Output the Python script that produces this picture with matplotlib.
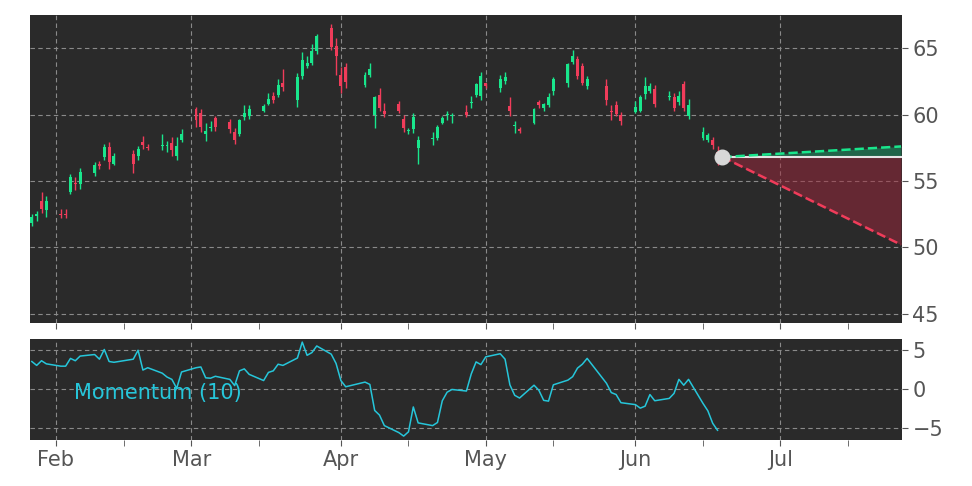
import matplotlib
matplotlib.use("Agg")
import matplotlib.pyplot as plt
import matplotlib.dates as mdates
import numpy as np
import pandas as pd

holidays = ["2026-02-16", "2026-04-03", "2026-05-25"]
dates = [d for d in pd.bdate_range("2026-01-27", "2026-06-18") if d.strftime("%Y-%m-%d") not in holidays]

opens = [51.8,52.35,53.5,52.8,52.5,52.5,54.2,54.85,54.8,55.6,56.3,56.8,57.55,56.3,57.05,56.9,57.9,57.55,57.65,57.65,
         57.85,56.85,58.1,60.45,60.1,58.55,59.0,59.75,59.45,58.7,58.55,59.8,59.9,60.25,60.8,61.4,61.45,62.4,61.1,62.9,
         63.65,63.85,64.8,66.5,65.2,63.0,63.55,62.25,62.95,59.95,61.45,60.3,60.8,59.7,58.8,58.9,57.5,58.15,58.25,59.4,
         60.0,59.9,60.2,60.85,61.5,61.4,62.35,62.0,62.5,60.65,59.15,58.95,59.35,60.95,60.5,60.7,61.75,62.4,63.95,64.2,
         63.65,62.15,62.15,60.25,60.75,60.0,60.2,60.3,61.55,61.8,61.95,61.35,61.3,60.95,62.3,59.9,58.25,58.1,58.1,57.2]
closes = [52.3,52.5,52.9,53.5,52.45,52.45,55.3,54.8,55.7,56.2,56.1,57.55,56.4,56.9,56.25,57.4,57.7,57.5,57.7,57.7,
          57.3,57.6,58.55,59.6,59.05,58.8,59.05,59.1,58.9,58.1,59.6,60.15,60.4,60.65,61.15,61.1,62.2,62.1,62.85,64.1,
          63.9,64.8,65.9,65.1,64.4,62.15,62.45,62.95,63.4,61.3,60.5,60.05,60.25,59.0,58.85,59.8,58.05,58.2,59.05,59.75,
          60.05,59.95,59.95,60.9,62.3,62.9,62.15,62.7,62.85,60.25,59.2,58.75,60.4,60.7,60.8,61.3,62.65,63.8,64.4,62.9,
          62.35,62.65,61.1,60.2,60.05,59.5,60.6,61.3,62.15,62.15,60.8,61.4,60.5,61.4,60.5,60.7,58.7,58.45,57.7,56.8]
highs = [52.5,52.7,54.2,53.9,52.9,52.9,55.5,55.3,56.0,56.4,56.5,57.8,57.9,57.1,57.3,57.6,58.4,57.8,58.5,58.0,
         58.3,58.3,58.9,60.6,60.4,59.4,59.5,59.9,59.7,59.0,59.7,60.7,60.7,60.8,61.6,61.7,62.7,63.4,63.1,64.7,
         64.4,65.3,66.1,66.8,65.8,63.6,63.9,63.2,63.9,61.4,62.0,60.9,61.0,60.0,59.0,60.1,58.4,58.7,59.2,59.9,
         60.3,60.1,60.7,61.4,62.4,63.2,62.4,63.0,63.2,61.3,59.5,59.1,60.5,61.1,60.9,61.6,62.8,63.9,64.9,64.4,
         63.9,62.9,62.7,60.7,61.0,60.2,61.0,61.5,62.8,62.4,62.2,61.8,61.6,61.8,62.5,61.2,59.1,58.6,58.3,57.6]
lows = [51.6,52.0,52.6,52.3,52.2,52.2,54.0,54.3,54.4,55.4,55.9,56.6,55.9,56.2,55.6,56.6,57.4,57.3,57.3,57.2,
        56.9,56.6,57.9,59.1,58.7,58.0,58.8,58.8,58.6,57.8,58.4,59.6,59.7,60.2,60.7,60.9,61.3,61.8,60.6,62.7,
        63.5,63.7,64.6,64.9,63.0,61.6,62.0,62.1,62.8,59.0,60.3,59.8,60.1,58.7,58.5,58.6,56.3,57.7,58.1,59.3,
        59.6,59.4,59.8,60.5,61.3,61.1,62.0,61.7,62.3,59.9,58.6,58.6,59.3,60.5,60.3,60.6,61.5,62.1,63.8,62.7,
        62.2,61.9,60.7,59.6,59.9,59.2,60.1,60.2,61.2,61.6,60.6,61.1,60.3,60.7,60.3,59.7,58.1,57.9,57.4,56.2]

mom_start = [3.5,3.0,3.6,3.2,2.9,2.9,3.9,3.6,4.2,4.4]
momentum = mom_start + [closes[i] - closes[i - 10] for i in range(10, len(closes))]

fc_dates = pd.to_datetime(["2026-06-19", "2026-07-26"])
fc_base = [56.8, 56.8]
fc_up = [56.8, 57.6]
fc_low = [56.8, 50.2]

BG = "#2a2a2a"
GREEN = "#19e68c"
RED = "#f03c5a"
TXT = "#555555"

fig = plt.figure(figsize=(9.72, 4.86), dpi=100)
ax = fig.add_axes([0.0309, 0.3354, 0.8971, 0.6337])
ax2 = fig.add_axes([0.0309, 0.0947, 0.8971, 0.2078], sharex=ax)

xn = mdates.date2num(dates)
w = 0.6
for x, o, h, l, c in zip(xn, opens, highs, lows, closes):
    col = GREEN if c >= o else RED
    ax.vlines(x, l, h, color=col, lw=1, zorder=3)
    b = max(abs(c - o), 0.06)
    ax.add_patch(plt.Rectangle((x - w / 2, min(o, c)), w, b, color=col, zorder=4, lw=0))

fx = mdates.date2num(fc_dates)
ax.fill_between(fx, fc_base, fc_low, color="#a0283c", alpha=0.5, lw=0, zorder=2)
ax.fill_between(fx, fc_base, fc_up, color="#1aa06a", alpha=0.5, lw=0, zorder=2)
ax.plot(fx, fc_base, color="#e6e6e6", lw=1.5, zorder=5)
ax.plot(fx, fc_up, color=GREEN, lw=1.8, ls="--", zorder=5)
ax.plot(fx, fc_low, color=RED, lw=1.8, ls="--", zorder=5)
ax.scatter([fx[0]], [fc_base[0]], s=110, color="#d8d8d8", zorder=6)

ax2.plot(xn, momentum, color="#26c6da", lw=1.1)
ax2.text(0.05, 0.47, "Momentum (10)", transform=ax2.transAxes, color="#26c6da", fontsize=15, va="center")

for a in (ax, ax2):
    a.set_facecolor(BG)
    a.grid(True, color="#8a8a8a", ls=(0, (4, 3)), lw=0.8)
    a.yaxis.tick_right()
    a.tick_params(axis="y", colors=TXT, labelsize=15, length=4)
    a.tick_params(axis="x", colors=TXT, labelsize=15)
    for s in a.spines.values():
        s.set_visible(False)

ax.set_xlim(mdates.date2num(pd.Timestamp("2026-01-26 15:00")), mdates.date2num(pd.Timestamp("2026-07-26 05:00")))
ax.set_ylim(44.3, 67.5)
ax.set_yticks([45, 50, 55, 60, 65])
ax2.set_ylim(-6.6, 6.4)
ax2.set_yticks([-5, 0, 5])
ax2.set_yticklabels(["\u22125", "0", "5"])
ax2.xaxis.set_major_locator(mdates.MonthLocator())
ax2.xaxis.set_major_formatter(mdates.DateFormatter("%b"))
ax2.xaxis.set_minor_locator(mdates.MonthLocator(bymonthday=15))
ax2.tick_params(axis="x", which="both", colors=TXT, length=4)
ax.tick_params(axis="x", which="both", labelbottom=False, colors=TXT, length=4)

fig.savefig("out.png", dpi=100, facecolor="white")
